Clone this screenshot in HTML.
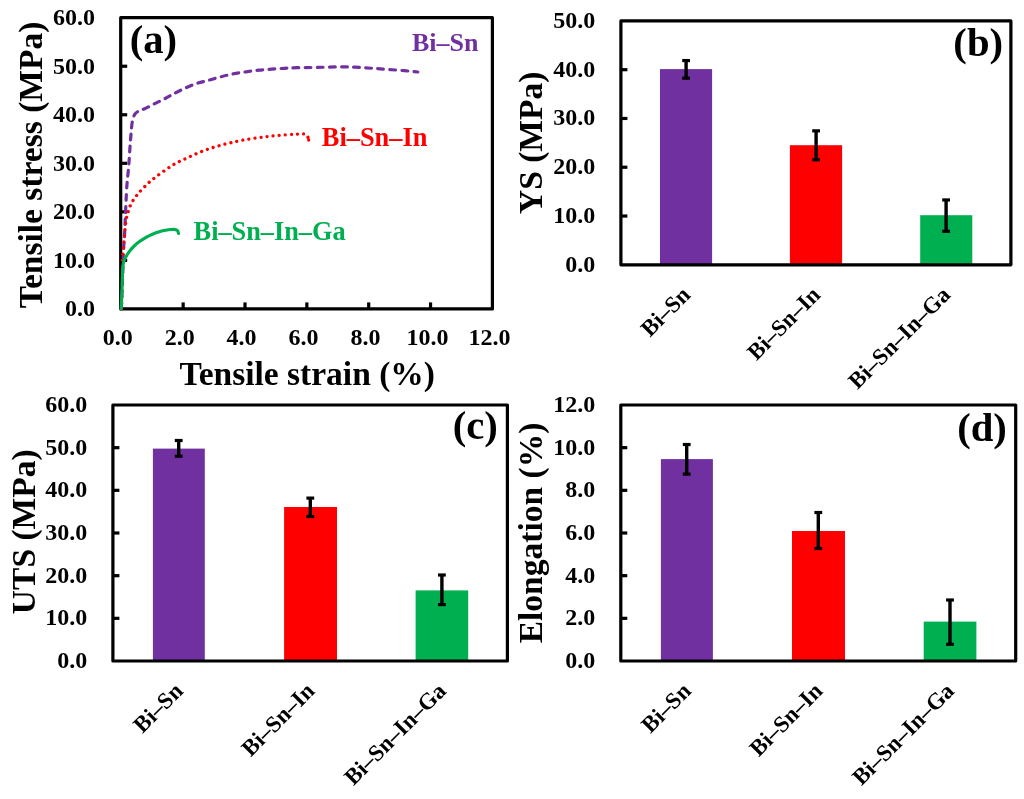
<!DOCTYPE html><html><head><meta charset="utf-8"><style>html,body{margin:0;padding:0;background:#fff;overflow:hidden}svg{display:block;will-change:transform}text{font-family:"Liberation Serif",serif;font-weight:bold}</style></head><body>
<svg width="1024" height="799" viewBox="0 0 1024 799" font-family="Liberation Serif" font-weight="bold">
<rect width="1024" height="799" fill="#fff"/>
<rect x="120.7" y="17.7" width="371.7" height="291.2" fill="none" stroke="#000" stroke-width="3.2" stroke-linejoin="round"/>
<line x1="120.7" y1="260.3666666666667" x2="127.2" y2="260.3666666666667" stroke="#000" stroke-width="3.2"/>
<line x1="120.7" y1="211.83333333333331" x2="127.2" y2="211.83333333333331" stroke="#000" stroke-width="3.2"/>
<line x1="120.7" y1="163.29999999999998" x2="127.2" y2="163.29999999999998" stroke="#000" stroke-width="3.2"/>
<line x1="120.7" y1="114.76666666666665" x2="127.2" y2="114.76666666666665" stroke="#000" stroke-width="3.2"/>
<line x1="120.7" y1="66.23333333333332" x2="127.2" y2="66.23333333333332" stroke="#000" stroke-width="3.2"/>
<line x1="183.14999999999998" y1="308.9" x2="183.14999999999998" y2="302.4" stroke="#000" stroke-width="3.2"/>
<line x1="245.0" y1="308.9" x2="245.0" y2="302.4" stroke="#000" stroke-width="3.2"/>
<line x1="306.84999999999997" y1="308.9" x2="306.84999999999997" y2="302.4" stroke="#000" stroke-width="3.2"/>
<line x1="368.7" y1="308.9" x2="368.7" y2="302.4" stroke="#000" stroke-width="3.2"/>
<line x1="430.55" y1="308.9" x2="430.55" y2="302.4" stroke="#000" stroke-width="3.2"/>
<path d="M121.30 309.00 C121.47 305.00 122.00 292.83 122.30 285.00 C122.60 277.17 122.90 267.83 123.10 262.00 C123.30 256.17 123.23 255.00 123.50 250.00 C123.77 245.00 124.18 242.00 124.70 232.00 C125.22 222.00 125.93 200.95 126.60 190.00 C127.27 179.05 128.15 173.22 128.70 166.30 C129.25 159.38 129.52 153.85 129.90 148.50 C130.28 143.15 130.62 138.57 131.00 134.20 C131.38 129.83 131.60 125.57 132.20 122.30 C132.80 119.03 133.50 116.48 134.60 114.60 C135.70 112.72 137.12 111.98 138.80 111.00 C140.48 110.02 142.13 109.88 144.70 108.70 C147.27 107.52 150.83 105.58 154.20 103.90 C157.57 102.22 161.85 100.18 164.90 98.60 C167.95 97.02 169.53 95.95 172.50 94.40 C175.47 92.85 178.88 91.05 182.70 89.30 C186.52 87.55 191.17 85.38 195.40 83.90 C199.63 82.42 203.87 81.58 208.10 80.40 C212.33 79.22 216.57 77.90 220.80 76.80 C225.03 75.70 229.27 74.63 233.50 73.80 C237.73 72.97 241.97 72.40 246.20 71.80 C250.43 71.20 254.67 70.63 258.90 70.20 C263.13 69.77 267.37 69.52 271.60 69.20 C275.83 68.88 280.07 68.55 284.30 68.30 C288.53 68.05 291.50 67.85 297.00 67.70 C302.50 67.55 309.80 67.55 317.30 67.40 C324.80 67.25 335.73 66.83 342.00 66.80 C348.27 66.77 350.58 67.00 354.90 67.20 C359.22 67.40 363.68 67.72 367.90 68.00 C372.12 68.28 374.50 68.48 380.20 68.90 C385.90 69.32 395.83 69.98 402.10 70.50 C408.37 71.02 415.18 71.75 417.80 72.00" fill="none" stroke="#7030A0" stroke-width="3.2" stroke-dasharray="5.7 6.4" stroke-linecap="round"/>
<path d="M121.50 309.00 C121.62 305.43 122.02 294.10 122.20 287.60 C122.38 281.10 122.52 275.00 122.60 270.00 C122.68 265.00 122.52 261.78 122.70 257.60 C122.88 253.42 123.37 249.12 123.70 244.90 C124.03 240.68 124.30 236.45 124.70 232.30 C125.10 228.15 125.63 223.02 126.10 220.00 C126.57 216.98 127.00 216.07 127.50 214.20 C128.00 212.33 128.48 210.57 129.10 208.80 C129.72 207.03 130.37 205.25 131.20 203.60 C132.03 201.95 133.03 200.43 134.10 198.90 C135.17 197.37 136.40 195.87 137.60 194.40 C138.80 192.93 139.53 191.97 141.30 190.10 C143.07 188.23 145.75 185.42 148.20 183.20 C150.65 180.98 152.98 179.10 156.00 176.80 C159.02 174.50 162.98 171.67 166.30 169.40 C169.62 167.13 172.53 165.07 175.90 163.20 C179.27 161.33 182.97 159.83 186.50 158.20 C190.03 156.57 193.50 154.92 197.10 153.40 C200.70 151.88 204.43 150.38 208.10 149.10 C211.77 147.82 215.30 146.77 219.10 145.70 C222.90 144.63 226.95 143.62 230.90 142.70 C234.85 141.78 238.45 141.00 242.80 140.20 C247.15 139.40 252.60 138.53 257.00 137.90 C261.40 137.27 265.10 136.87 269.20 136.40 C273.30 135.93 277.45 135.45 281.60 135.10 C285.75 134.75 290.97 134.48 294.10 134.30 C297.23 134.12 298.33 133.95 300.40 134.00 C302.47 134.05 305.12 133.60 306.50 134.60 C307.88 135.60 308.33 139.10 308.70 140.00" fill="none" stroke="#FF0000" stroke-width="3.3" stroke-dasharray="0.01 6.1" stroke-linecap="round"/>
<circle cx="308.7" cy="140" r="1.65" fill="#FF0000"/>
<path d="M121.20 309.00 C121.35 305.43 121.85 294.17 122.10 287.60 C122.35 281.03 122.42 273.98 122.70 269.60 C122.98 265.22 123.18 263.57 123.80 261.30 C124.42 259.03 125.32 257.83 126.40 256.00 C127.48 254.17 128.92 252.05 130.30 250.30 C131.68 248.55 133.17 246.95 134.70 245.50 C136.23 244.05 137.82 242.83 139.50 241.60 C141.18 240.37 143.05 239.15 144.80 238.10 C146.55 237.05 148.22 236.15 150.00 235.30 C151.78 234.45 153.57 233.73 155.50 233.00 C157.43 232.27 159.60 231.42 161.60 230.90 C163.60 230.38 165.50 230.15 167.50 229.90 C169.50 229.65 171.95 229.30 173.60 229.40 C175.25 229.50 176.58 229.82 177.40 230.50 C178.22 231.18 178.32 233.00 178.50 233.50" fill="none" stroke="#00B050" stroke-width="3.1" stroke-linecap="round" stroke-linejoin="round"/>
<text x="95.1" y="316.29999999999995" font-size="24" text-anchor="end" fill="#000" >0.0</text>
<text x="95.1" y="267.76666666666665" font-size="24" text-anchor="end" fill="#000" >10.0</text>
<text x="95.1" y="219.23333333333332" font-size="24" text-anchor="end" fill="#000" >20.0</text>
<text x="95.1" y="170.7" font-size="24" text-anchor="end" fill="#000" >30.0</text>
<text x="95.1" y="122.16666666666666" font-size="24" text-anchor="end" fill="#000" >40.0</text>
<text x="95.1" y="73.63333333333333" font-size="24" text-anchor="end" fill="#000" >50.0</text>
<text x="95.1" y="25.099999999999987" font-size="24" text-anchor="end" fill="#000" >60.0</text>
<text x="117.7" y="344.9" font-size="24" text-anchor="middle" fill="#000" >0.0</text>
<text x="179.65" y="344.9" font-size="24" text-anchor="middle" fill="#000" >2.0</text>
<text x="241.6" y="344.9" font-size="24" text-anchor="middle" fill="#000" >4.0</text>
<text x="303.55" y="344.9" font-size="24" text-anchor="middle" fill="#000" >6.0</text>
<text x="365.5" y="344.9" font-size="24" text-anchor="middle" fill="#000" >8.0</text>
<text x="427.45" y="344.9" font-size="24" text-anchor="middle" fill="#000" >10.0</text>
<text x="489.4" y="344.9" font-size="24" text-anchor="middle" fill="#000" >12.0</text>
<text x="307.2" y="385.4" font-size="33.5" text-anchor="middle" fill="#000" >Tensile strain (%)</text>
<text transform="translate(41.9,165) rotate(-90)" font-size="33.5" text-anchor="middle">Tensile stress (MPa)</text>
<text x="129.7" y="53.35" font-size="40.7" text-anchor="start" fill="#000" >(a)</text>
<text x="412" y="51" font-size="26" text-anchor="start" fill="#7030A0" >Bi–Sn</text>
<text x="321.8" y="146" font-size="26.4" text-anchor="start" fill="#FF0000" >Bi–Sn–In</text>
<text x="193.6" y="240" font-size="26.3" text-anchor="start" fill="#00B050" >Bi–Sn–In–Ga</text>
<rect x="660" y="69.1" width="52.10000000000002" height="195.70000000000002" fill="#7030A0"/>
<line x1="686.1" y1="60.55" x2="686.1" y2="78.15" stroke="#000" stroke-width="3.4"/>
<line x1="682.2" y1="60.55" x2="690.0" y2="60.55" stroke="#000" stroke-width="3.2"/>
<line x1="682.2" y1="78.15" x2="690.0" y2="78.15" stroke="#000" stroke-width="3.2"/>
<rect x="789.9" y="145.2" width="52.200000000000045" height="119.60000000000002" fill="#FF0000"/>
<line x1="816.1" y1="130.85" x2="816.1" y2="159.8" stroke="#000" stroke-width="3.4"/>
<line x1="812.2" y1="130.85" x2="820.0" y2="130.85" stroke="#000" stroke-width="3.2"/>
<line x1="812.2" y1="159.8" x2="820.0" y2="159.8" stroke="#000" stroke-width="3.2"/>
<rect x="920.2" y="215.2" width="52.09999999999991" height="49.60000000000002" fill="#00B050"/>
<line x1="946.1" y1="199.95" x2="946.1" y2="231.3" stroke="#000" stroke-width="3.4"/>
<line x1="942.2" y1="199.95" x2="950.0" y2="199.95" stroke="#000" stroke-width="3.2"/>
<line x1="942.2" y1="231.3" x2="950.0" y2="231.3" stroke="#000" stroke-width="3.2"/>
<rect x="620.9" y="20.9" width="390.0" height="243.9" fill="none" stroke="#000" stroke-width="3.2" stroke-linejoin="round"/>
<line x1="620.9" y1="216.02" x2="627.4" y2="216.02" stroke="#000" stroke-width="3.2"/>
<line x1="620.9" y1="167.24" x2="627.4" y2="167.24" stroke="#000" stroke-width="3.2"/>
<line x1="620.9" y1="118.46000000000001" x2="627.4" y2="118.46000000000001" stroke="#000" stroke-width="3.2"/>
<line x1="620.9" y1="69.68" x2="627.4" y2="69.68" stroke="#000" stroke-width="3.2"/>
<text x="595.3" y="271.8" font-size="24" text-anchor="end" fill="#000" >0.0</text>
<text x="595.3" y="223.02" font-size="24" text-anchor="end" fill="#000" >10.0</text>
<text x="595.3" y="174.24" font-size="24" text-anchor="end" fill="#000" >20.0</text>
<text x="595.3" y="125.46000000000001" font-size="24" text-anchor="end" fill="#000" >30.0</text>
<text x="595.3" y="76.68" font-size="24" text-anchor="end" fill="#000" >40.0</text>
<text x="595.3" y="27.900000000000006" font-size="24" text-anchor="end" fill="#000" >50.0</text>
<text x="1003.1" y="55.6" font-size="40.7" text-anchor="end" fill="#000" >(b)</text>
<text transform="translate(542,142.85) rotate(-90)" font-size="33.5" text-anchor="middle">YS (MPa)</text>
<text transform="translate(691.6,296.1) rotate(-45)" font-size="23" text-anchor="end">Bi–Sn</text>
<text transform="translate(821.6,296.1) rotate(-45)" font-size="23" text-anchor="end">Bi–Sn–In</text>
<text transform="translate(951.6,296.1) rotate(-45)" font-size="23" text-anchor="end">Bi–Sn–In–Ga</text>
<rect x="152.9" y="448.6" width="51.900000000000006" height="212.39999999999998" fill="#7030A0"/>
<line x1="178.7" y1="440.5" x2="178.7" y2="456.2" stroke="#000" stroke-width="3.4"/>
<line x1="174.79999999999998" y1="440.5" x2="182.6" y2="440.5" stroke="#000" stroke-width="3.2"/>
<line x1="174.79999999999998" y1="456.2" x2="182.6" y2="456.2" stroke="#000" stroke-width="3.2"/>
<rect x="284.1" y="507" width="52.89999999999998" height="154.0" fill="#FF0000"/>
<line x1="310.3" y1="498.1" x2="310.3" y2="516.5" stroke="#000" stroke-width="3.4"/>
<line x1="306.40000000000003" y1="498.1" x2="314.2" y2="498.1" stroke="#000" stroke-width="3.2"/>
<line x1="306.40000000000003" y1="516.5" x2="314.2" y2="516.5" stroke="#000" stroke-width="3.2"/>
<rect x="415.6" y="590.4" width="52.599999999999966" height="70.60000000000002" fill="#00B050"/>
<line x1="441.9" y1="575" x2="441.9" y2="604.6" stroke="#000" stroke-width="3.4"/>
<line x1="438.0" y1="575" x2="445.79999999999995" y2="575" stroke="#000" stroke-width="3.2"/>
<line x1="438.0" y1="604.6" x2="445.79999999999995" y2="604.6" stroke="#000" stroke-width="3.2"/>
<rect x="112.9" y="405" width="394.5" height="256.0" fill="none" stroke="#000" stroke-width="3.2" stroke-linejoin="round"/>
<line x1="112.9" y1="618.3333333333334" x2="119.4" y2="618.3333333333334" stroke="#000" stroke-width="3.2"/>
<line x1="112.9" y1="575.6666666666666" x2="119.4" y2="575.6666666666666" stroke="#000" stroke-width="3.2"/>
<line x1="112.9" y1="533.0" x2="119.4" y2="533.0" stroke="#000" stroke-width="3.2"/>
<line x1="112.9" y1="490.33333333333337" x2="119.4" y2="490.33333333333337" stroke="#000" stroke-width="3.2"/>
<line x1="112.9" y1="447.66666666666663" x2="119.4" y2="447.66666666666663" stroke="#000" stroke-width="3.2"/>
<text x="87.30000000000001" y="668.0" font-size="24" text-anchor="end" fill="#000" >0.0</text>
<text x="87.30000000000001" y="625.3333333333334" font-size="24" text-anchor="end" fill="#000" >10.0</text>
<text x="87.30000000000001" y="582.6666666666666" font-size="24" text-anchor="end" fill="#000" >20.0</text>
<text x="87.30000000000001" y="540.0" font-size="24" text-anchor="end" fill="#000" >30.0</text>
<text x="87.30000000000001" y="497.33333333333337" font-size="24" text-anchor="end" fill="#000" >40.0</text>
<text x="87.30000000000001" y="454.66666666666663" font-size="24" text-anchor="end" fill="#000" >50.0</text>
<text x="87.30000000000001" y="412.0" font-size="24" text-anchor="end" fill="#000" >60.0</text>
<text x="497.8" y="438.7" font-size="40.7" text-anchor="end" fill="#000" >(c)</text>
<text transform="translate(35,531.8) rotate(-90)" font-size="33.5" text-anchor="middle">UTS (MPa)</text>
<text transform="translate(184.2,692.3) rotate(-45)" font-size="23" text-anchor="end">Bi–Sn</text>
<text transform="translate(315.8,692.3) rotate(-45)" font-size="23" text-anchor="end">Bi–Sn–In</text>
<text transform="translate(447.4,692.3) rotate(-45)" font-size="23" text-anchor="end">Bi–Sn–In–Ga</text>
<rect x="660.9" y="459.1" width="52.0" height="201.89999999999998" fill="#7030A0"/>
<line x1="686.7" y1="444.5" x2="686.7" y2="474.1" stroke="#000" stroke-width="3.4"/>
<line x1="682.8000000000001" y1="444.5" x2="690.6" y2="444.5" stroke="#000" stroke-width="3.2"/>
<line x1="682.8000000000001" y1="474.1" x2="690.6" y2="474.1" stroke="#000" stroke-width="3.2"/>
<rect x="792" y="531" width="53" height="130.0" fill="#FF0000"/>
<line x1="818.3" y1="512.5" x2="818.3" y2="548.5" stroke="#000" stroke-width="3.4"/>
<line x1="814.4" y1="512.5" x2="822.1999999999999" y2="512.5" stroke="#000" stroke-width="3.2"/>
<line x1="814.4" y1="548.5" x2="822.1999999999999" y2="548.5" stroke="#000" stroke-width="3.2"/>
<rect x="923.7" y="621.6" width="52.69999999999993" height="39.39999999999998" fill="#00B050"/>
<line x1="950" y1="600" x2="950" y2="644.3" stroke="#000" stroke-width="3.4"/>
<line x1="946.1" y1="600" x2="953.9" y2="600" stroke="#000" stroke-width="3.2"/>
<line x1="946.1" y1="644.3" x2="953.9" y2="644.3" stroke="#000" stroke-width="3.2"/>
<rect x="620.8" y="405" width="394.9000000000001" height="256.0" fill="none" stroke="#000" stroke-width="3.2" stroke-linejoin="round"/>
<line x1="620.8" y1="618.3333333333334" x2="627.3" y2="618.3333333333334" stroke="#000" stroke-width="3.2"/>
<line x1="620.8" y1="575.6666666666666" x2="627.3" y2="575.6666666666666" stroke="#000" stroke-width="3.2"/>
<line x1="620.8" y1="533.0" x2="627.3" y2="533.0" stroke="#000" stroke-width="3.2"/>
<line x1="620.8" y1="490.33333333333337" x2="627.3" y2="490.33333333333337" stroke="#000" stroke-width="3.2"/>
<line x1="620.8" y1="447.66666666666663" x2="627.3" y2="447.66666666666663" stroke="#000" stroke-width="3.2"/>
<text x="595.1999999999999" y="668.0" font-size="24" text-anchor="end" fill="#000" >0.0</text>
<text x="595.1999999999999" y="625.3333333333334" font-size="24" text-anchor="end" fill="#000" >2.0</text>
<text x="595.1999999999999" y="582.6666666666666" font-size="24" text-anchor="end" fill="#000" >4.0</text>
<text x="595.1999999999999" y="540.0" font-size="24" text-anchor="end" fill="#000" >6.0</text>
<text x="595.1999999999999" y="497.33333333333337" font-size="24" text-anchor="end" fill="#000" >8.0</text>
<text x="595.1999999999999" y="454.66666666666663" font-size="24" text-anchor="end" fill="#000" >10.0</text>
<text x="595.1999999999999" y="412.0" font-size="24" text-anchor="end" fill="#000" >12.0</text>
<text x="1006.9" y="441.2" font-size="40.7" text-anchor="end" fill="#000" >(d)</text>
<text transform="translate(541.8,533.0) rotate(-90)" font-size="33.5" text-anchor="middle">Elongation (%)</text>
<text transform="translate(692.2,692.3) rotate(-45)" font-size="23" text-anchor="end">Bi–Sn</text>
<text transform="translate(823.8,692.3) rotate(-45)" font-size="23" text-anchor="end">Bi–Sn–In</text>
<text transform="translate(955.5,692.3) rotate(-45)" font-size="23" text-anchor="end">Bi–Sn–In–Ga</text>
</svg></body></html>
